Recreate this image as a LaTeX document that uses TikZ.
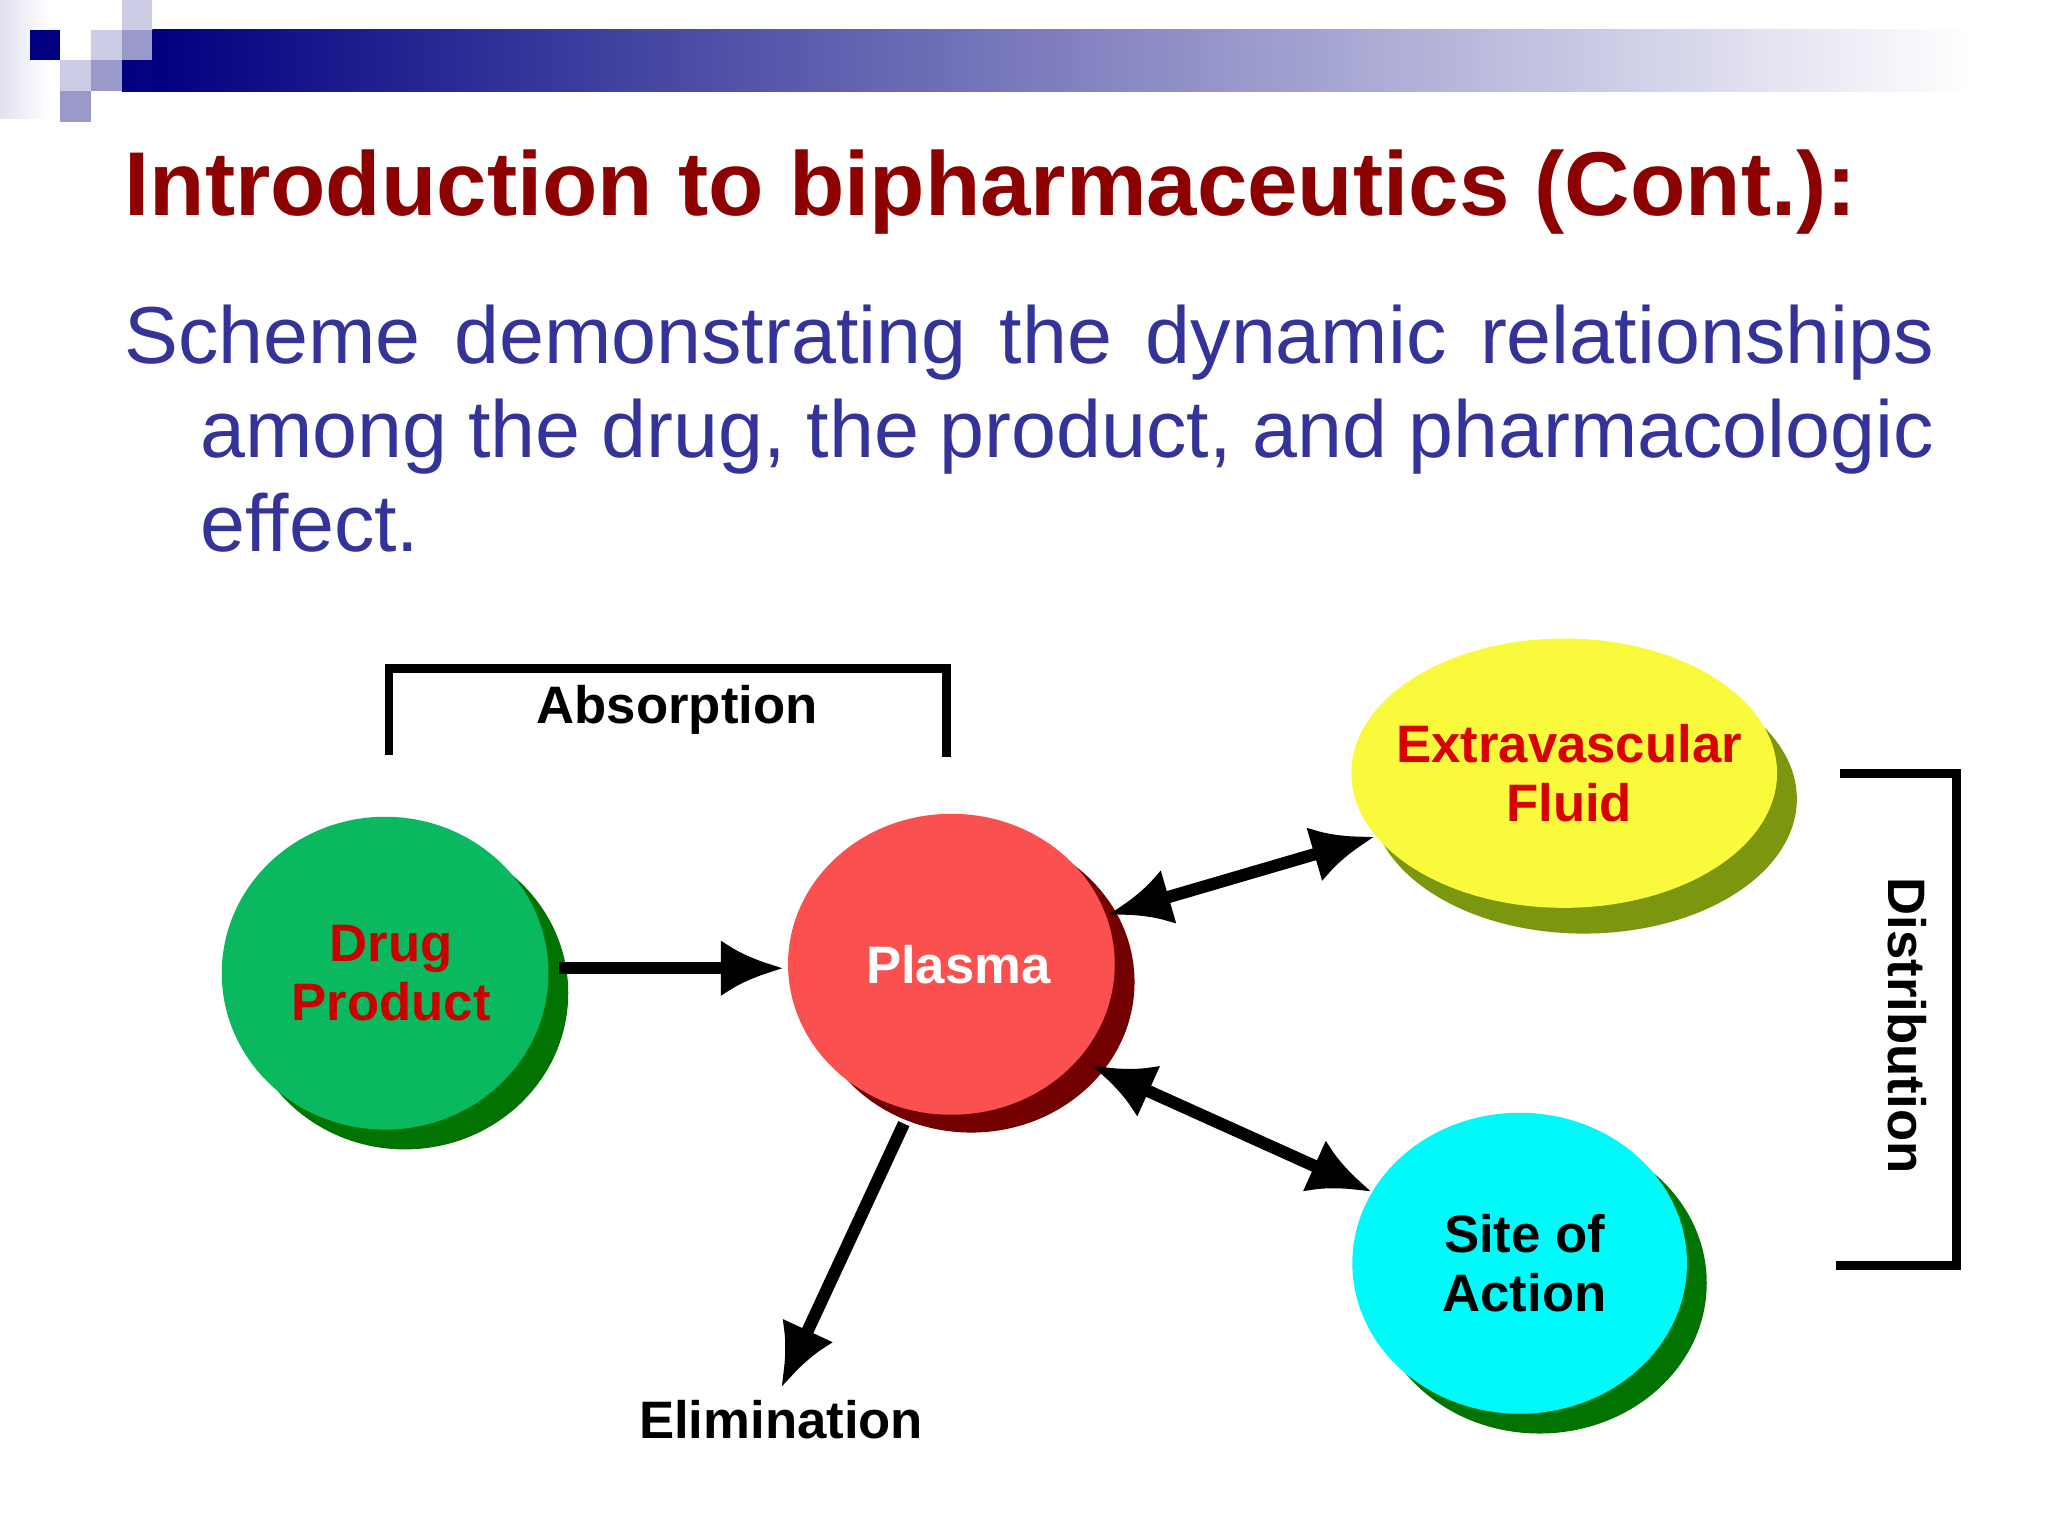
\documentclass[tikz,border=0pt]{standalone}
\usepackage{fontspec}
\setmainfont{Liberation Sans}
\usetikzlibrary{arrows.meta}
\definecolor{navy}{RGB}{0,0,128}
\definecolor{lav}{RGB}{204,204,230}
\definecolor{med}{RGB}{153,153,204}
\definecolor{titlered}{RGB}{140,0,0}
\definecolor{bodyblue}{RGB}{51,51,153}
\definecolor{dgreen}{RGB}{10,185,95}
\definecolor{pred}{RGB}{250,80,80}
\definecolor{ylw}{RGB}{250,250,60}
\definecolor{cyn}{RGB}{0,250,250}
\tikzset{
 lbl/.style={font=\fontsize{15pt}{17pt}\selectfont\bfseries, align=center},
 arr/.style={line width=3.5pt, -{Latex[length=18pt,width=16pt]}},
 darr/.style={line width=3.5pt, {Latex[length=18pt,width=16pt]}-{Latex[length=18pt,width=16pt]}},
 brk/.style={line width=2.5pt},
}
\begin{document}
\begin{tikzpicture}[x=0.0099cm,y=-0.0099cm]
\useasboundingbox (0,0) rectangle (2068.7,1551.5);
\fill[white] (0,0) rectangle (2068.7,1551.5);
% header decoration
\shade[left color=lav!60, right color=white] (0,0) rectangle (50,120);
\shade[left color=navy, right color=white] (123,61) rectangle (1990,92);
\shade[left color=navy, right color=white] (154,30) rectangle (1990,92);
\fill[navy] (30,30) rectangle (61,61);
\fill[lav] (123,0) rectangle (154,30);
\fill[lav] (92,30) rectangle (123,61);
\fill[med] (123,30) rectangle (154,61);
\fill[lav] (61,61) rectangle (92,92);
\fill[med] (92,61) rectangle (123,92);
\fill[med] (61,92) rectangle (92,123);
% title
\node[anchor=base west, inner sep=0, text=titlered, font=\fontsize{25.8pt}{30pt}\selectfont\bfseries] (title) at (125,218) {Introduction to bipharmaceutics (Cont.):};
\node[anchor=base west, inner sep=0, text=bodyblue, font=\fontsize{23pt}{28pt}\selectfont] (l1) at (125,367) {\makebox[18.1cm][s]{Scheme demonstrating the dynamic relationships}};
\node[anchor=base west, inner sep=0, text=bodyblue, font=\fontsize{23pt}{28pt}\selectfont] (l2) at (202,462) {\makebox[17.34cm][s]{among the drug, the product, and pharmacologic}};
\node[anchor=base west, inner sep=0, text=bodyblue, font=\fontsize{23pt}{28pt}\selectfont] (l3) at (202,557) {effect.};
% shapes
\fill[green!45!black] (409,1003) ellipse [x radius=165, y radius=158];
\fill[dgreen] (389,983) ellipse [x radius=165, y radius=158];
\node[lbl, text=red!80!black] (drug) at (395,983) {Drug\\Product};
\fill[red!45!black] (981,992) ellipse [x radius=165, y radius=152];
\fill[pred] (961,974) ellipse [x radius=165, y radius=152];
\node[lbl, text=white] (plasma) at (968,974) {Plasma};
\fill[olive!70!green] (1600,807) ellipse [x radius=215, y radius=136];
\fill[ylw] (1580,781) ellipse [x radius=215, y radius=136];
\node[lbl, text=red!85!black] (extra) at (1585,781) {Extravascular\\Fluid};
\fill[green!45!black] (1555,1296) ellipse [x radius=169, y radius=152];
\fill[cyn] (1535,1276) ellipse [x radius=169, y radius=152];
\node[lbl] (site) at (1540,1276) {Site of\\Action};
% arrows
\coordinate (a1) at (565,978); \coordinate (a2) at (792,978);
\coordinate (b1) at (1119,924); \coordinate (b2) at (1389,845);
\coordinate (c1) at (1102,1076); \coordinate (c2) at (1386,1204);
\coordinate (d1) at (913,1135); \coordinate (d2) at (789,1402);
\draw[arr] (a1) -- (a2);
\draw[darr] (b1) -- (b2);
\draw[darr] (c1) -- (c2);
\draw[arr] (d1) -- (d2);
\node[lbl] (elim) at (789,1434) {Elimination};
% brackets
\draw[brk] (393,763) -- (393,675) -- (956,675) -- (956,765);
\node[lbl] (abs) at (684,717) {Absorption};
\draw[brk] (1859,781) -- (1976,781) -- (1976,1278) -- (1855,1278);
\node[lbl, rotate=-90] (dist) at (1927,1036) {Distribution};
\end{tikzpicture}
\end{document}
